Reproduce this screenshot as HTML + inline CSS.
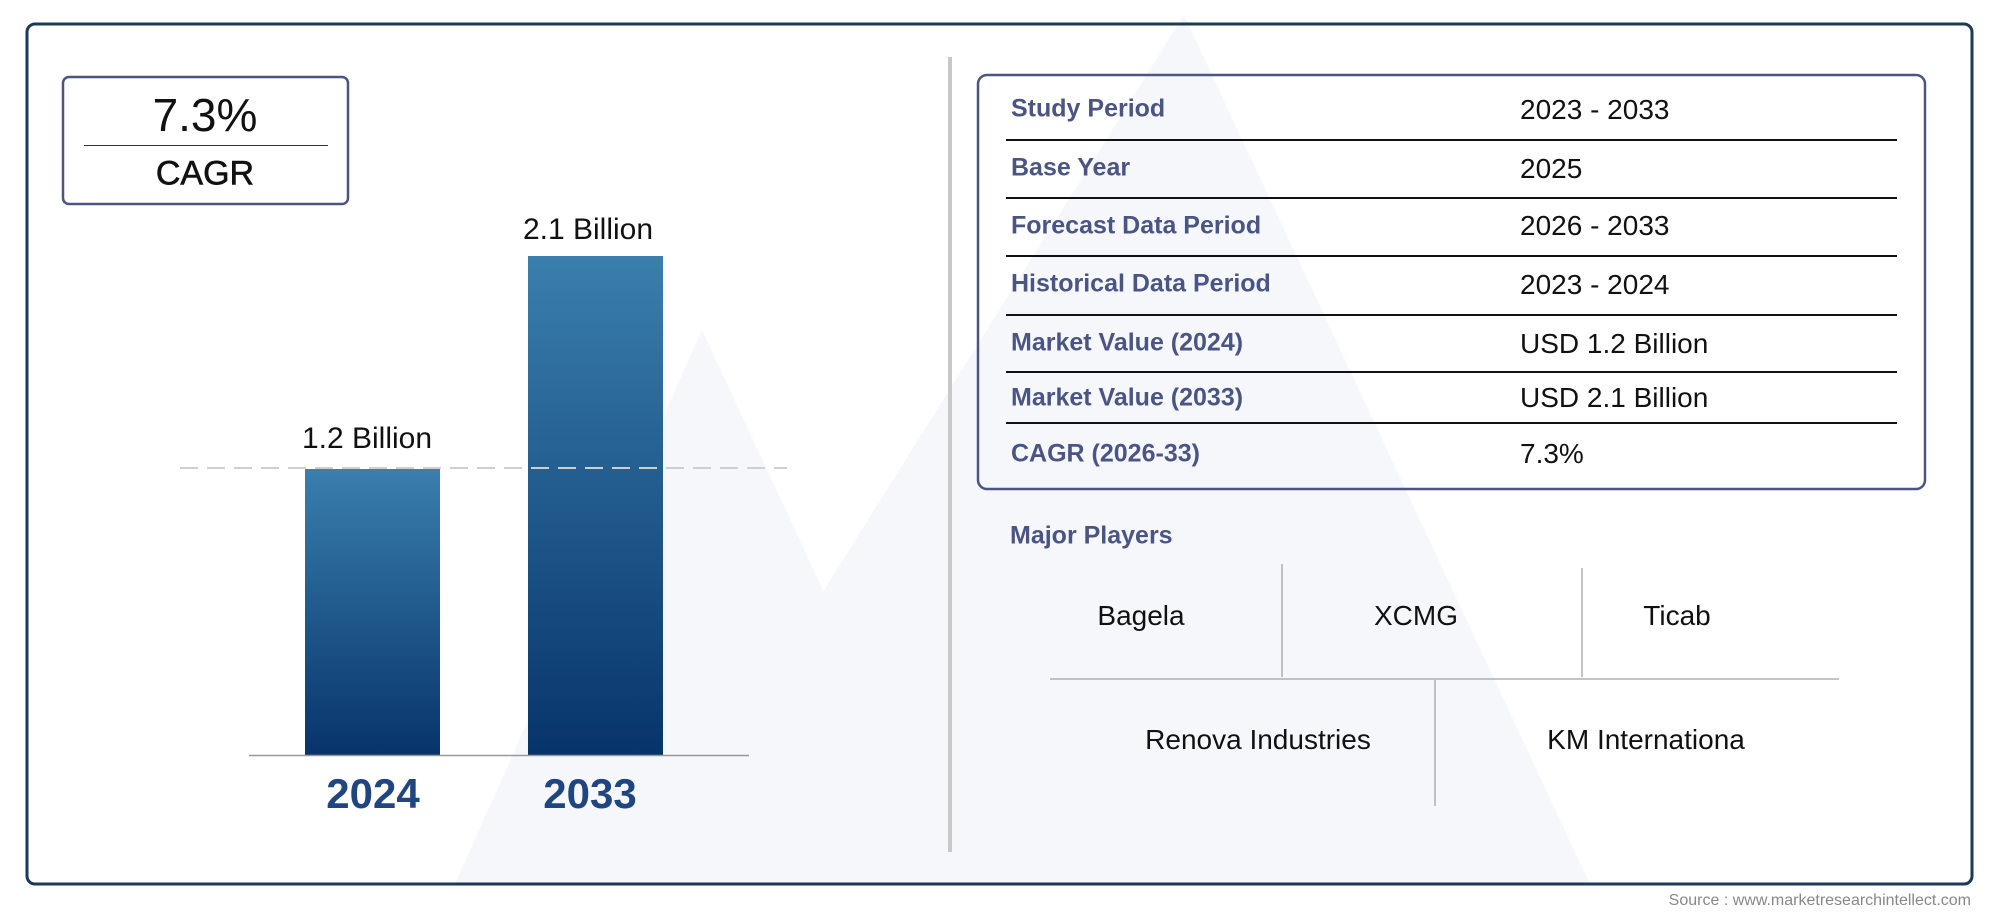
<!DOCTYPE html>
<html><head><meta charset="utf-8"><style>
*{margin:0;padding:0;box-sizing:border-box}
body{width:2000px;height:917px;background:#fff;position:relative;overflow:hidden;font-family:"Liberation Sans",sans-serif}
.a{position:absolute;white-space:nowrap}
.lbl{position:absolute;left:1011px;font-size:25px;font-weight:bold;color:#4a5584;transform:translateY(-50%)}
.val{position:absolute;left:1520px;font-size:28px;color:#111;transform:translateY(-50%)}
.hl{position:absolute;left:1006px;width:891px;height:2px;background:#111}
.c{transform:translate(-50%,-50%)}
</style></head><body>
<svg class="a" style="left:0;top:0" width="2000" height="917">
<polygon points="455,884 702,330 960,884" fill="#f5f7fb"/>
<polygon points="640,884 1184,15 1590,884" fill="#f5f7fb"/>
<defs><linearGradient id="g" x1="0" y1="0" x2="0" y2="1"><stop offset="0" stop-color="#3a7fad"/><stop offset="1" stop-color="#07346a"/></linearGradient></defs>
<rect x="305" y="469" width="135" height="286" fill="url(#g)"/>
<rect x="528" y="256" width="135" height="499" fill="url(#g)"/>
<line x1="249" y1="755.5" x2="749" y2="755.5" stroke="#999" stroke-width="1.5"/>
<line x1="180" y1="468" x2="787" y2="468" stroke="#cfcfcf" stroke-width="2" stroke-dasharray="18,9"/>
<rect x="27" y="24" width="1945" height="860" rx="8" fill="none" stroke="#1b3a55" stroke-width="3"/>
<rect x="63" y="77" width="285" height="127" rx="6" fill="none" stroke="#4a5584" stroke-width="2.5"/>
<line x1="84" y1="145.5" x2="328" y2="145.5" stroke="#333" stroke-width="1"/>
<line x1="950" y1="57" x2="950" y2="852" stroke="#c8c8c8" stroke-width="4"/>
<rect x="978" y="75" width="947" height="414" rx="9" fill="none" stroke="#4a5584" stroke-width="2.5"/>
<line x1="1282" y1="564" x2="1282" y2="677" stroke="#888" stroke-width="1"/>
<line x1="1582" y1="568" x2="1582" y2="677" stroke="#888" stroke-width="1"/>
<line x1="1050" y1="679" x2="1839" y2="679" stroke="#888" stroke-width="1"/>
<line x1="1435" y1="680" x2="1435" y2="806" stroke="#888" stroke-width="1"/>
</svg>
<div class="a c" style="left:205px;top:115px;font-size:46px;color:#111">7.3%</div>
<div class="a c" style="left:205px;top:174px;font-size:34px;color:#111;-webkit-text-stroke:0.6px #111">CAGR</div>
<div class="a c" style="left:367px;top:439px;font-size:30px;color:#111">1.2 Billion</div>
<div class="a c" style="left:588px;top:230px;font-size:30px;color:#111">2.1 Billion</div>
<div class="a c" style="left:373px;top:794px;font-size:42px;font-weight:bold;color:#1f4680">2024</div>
<div class="a c" style="left:590px;top:794px;font-size:42px;font-weight:bold;color:#1f4680">2033</div>
<div class="lbl" style="top:109px">Study Period</div><div class="val" style="top:110px">2023 - 2033</div>
<div class="hl" style="top:139px"></div>
<div class="lbl" style="top:168px">Base Year</div><div class="val" style="top:169px">2025</div>
<div class="hl" style="top:197px"></div>
<div class="lbl" style="top:226px">Forecast Data Period</div><div class="val" style="top:226px">2026 - 2033</div>
<div class="hl" style="top:255px"></div>
<div class="lbl" style="top:284px">Historical Data Period</div><div class="val" style="top:285px">2023 - 2024</div>
<div class="hl" style="top:314px"></div>
<div class="lbl" style="top:343px">Market Value (2024)</div><div class="val" style="top:344px">USD 1.2 Billion</div>
<div class="hl" style="top:371px"></div>
<div class="lbl" style="top:398px">Market Value (2033)</div><div class="val" style="top:398px">USD 2.1 Billion</div>
<div class="hl" style="top:422px"></div>
<div class="lbl" style="top:454px">CAGR (2026-33)</div><div class="val" style="top:454px">7.3%</div>
<div class="a" style="left:1010px;top:536px;transform:translateY(-50%);font-size:25px;font-weight:bold;color:#4a5584">Major Players</div>
<div class="a c" style="left:1141px;top:616px;font-size:28px;color:#111">Bagela</div>
<div class="a c" style="left:1416px;top:616px;font-size:28px;color:#111">XCMG</div>
<div class="a c" style="left:1677px;top:616px;font-size:28px;color:#111">Ticab</div>
<div class="a c" style="left:1258px;top:740px;font-size:28px;color:#111">Renova Industries</div>
<div class="a c" style="left:1646px;top:740px;font-size:28px;color:#111">KM Internationa</div>
<div class="a" style="right:29px;top:901px;transform:translateY(-50%);font-size:16px;color:#888">Source : www.marketresearchintellect.com</div>
</body></html>
